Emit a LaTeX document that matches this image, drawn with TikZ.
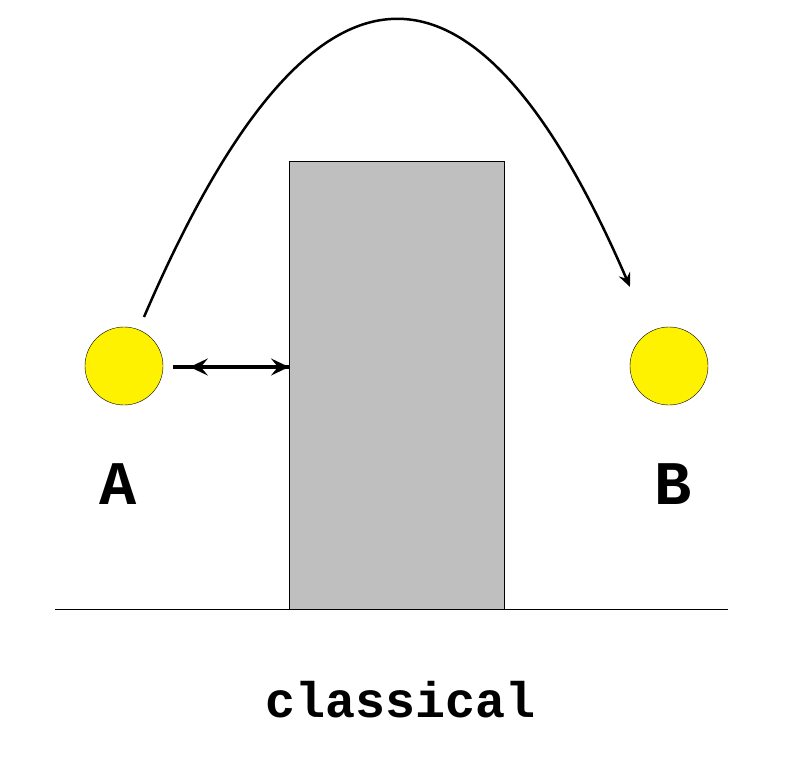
\documentclass[tikz,border=0pt]{standalone}
\usepackage{fontspec}
\setmonofont{Liberation Mono}
\usetikzlibrary{arrows.meta,decorations.markings}
\begin{document}
\begin{tikzpicture}[x=1pt,y=-1pt,
  ball/.style={circle,draw=black,fill=yellow,minimum size=78pt,inner sep=0pt},
  lbl/.style={font=\ttfamily\bfseries\fontsize{62}{62}\selectfont},
  arr/.style={-{Stealth[length=14pt,width=12pt,inset=5pt]},line width=2.5pt}]
\useasboundingbox (0,0) rectangle (806,770);
\node[ball] (A) at (124,366) {};
\node[ball] (B) at (669,366) {};
\node[draw=black,fill=black!25,minimum width=215pt,minimum height=448pt,inner sep=0pt,anchor=north west] (wall) at (289,161) {};
\coordinate (gl) at (55,609); \coordinate (gr) at (728,609);
\draw[line width=0.6pt] (gl) -- (gr);
\coordinate (s) at (144,317); \coordinate (e) at (630,287);
\draw[arr] (s) .. controls (310,-69) and (472,-79) .. (e);
\coordinate (d0) at (173,367);
\draw[line width=4pt,-{Stealth[length=18pt,width=17pt,inset=7pt]}] (d0) -- (wall.west|-d0);
\draw[line width=4pt,postaction={decorate},decoration={markings,mark=at position 0.3 with {\arrow{Stealth[length=18pt,width=17pt,inset=7pt,reversed]}}}] (d0) -- (wall.west|-d0);
\node[lbl] (la) at (118,484) {A};
\node[lbl] (lb) at (673,484) {B};
\node[font=\ttfamily\bfseries\fontsize{50}{50}\selectfont] (c) at (401,700) {classical};
\end{tikzpicture}
\end{document}
